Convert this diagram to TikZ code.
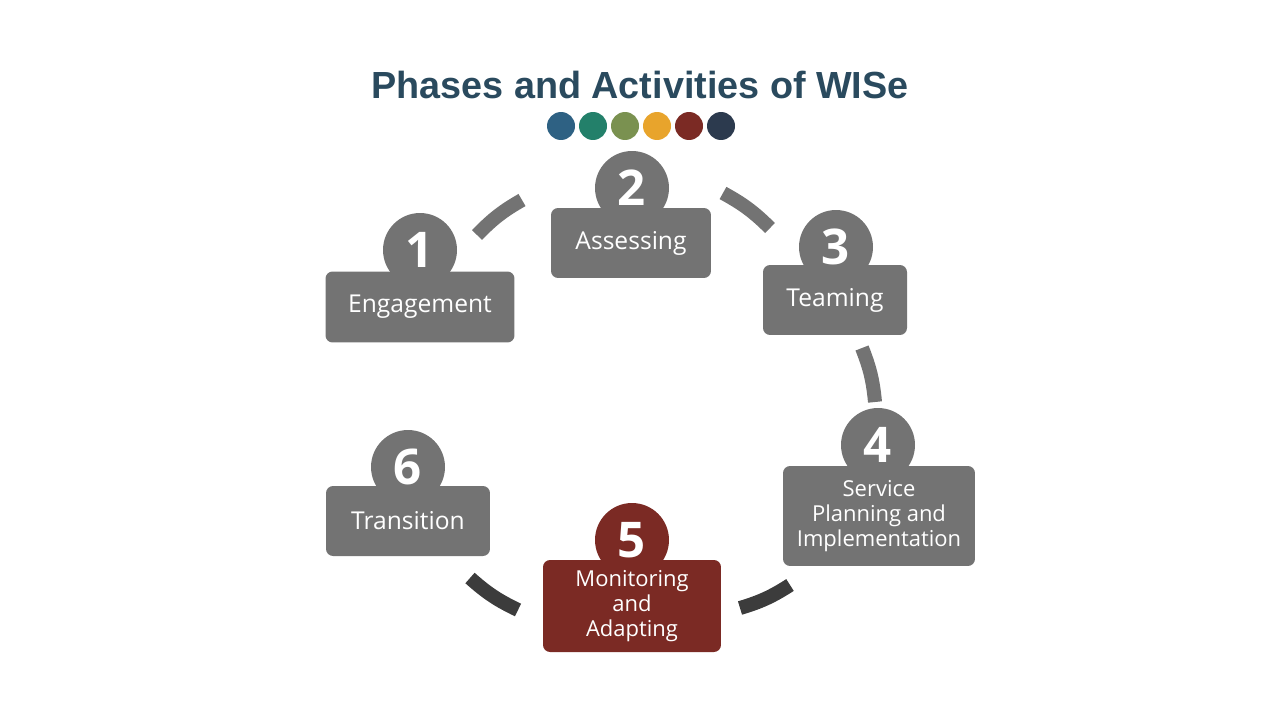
\documentclass[tikz,border=0pt]{standalone}
\usepackage{fontspec}
\setmainfont{Open Sans}
\newfontfamily\titlefont{Liberation Sans}
\definecolor{boxgray}{HTML}{737373}
\definecolor{arcdark}{HTML}{3C3C3C}
\definecolor{wisered}{HTML}{7B2A24}
\definecolor{titleblue}{HTML}{2A4A5E}
\definecolor{dotA}{HTML}{2E6183}
\definecolor{dotB}{HTML}{23806A}
\definecolor{dotC}{HTML}{7A9150}
\definecolor{dotD}{HTML}{E8A42C}
\definecolor{dotE}{HTML}{7B2A24}
\definecolor{dotF}{HTML}{2C3A4E}
\begin{document}
\begin{tikzpicture}[x=0.02cm, y=-0.02cm,
    phase/.style={rectangle, fill=boxgray, rounded corners=4pt, text=white, align=center, inner sep=0pt, font=\fontsize{14}{17}\selectfont},
    small/.style={font=\fontsize{12.5}{14.2}\selectfont},
    num/.style={circle, fill=boxgray, minimum size=1.48cm, inner sep=0pt, text=white, font=\fontsize{28}{28}\selectfont\bfseries},
    dot/.style={circle, minimum size=0.56cm, inner sep=0pt},
    arc/.style={draw=boxgray, line width=0.28cm},
    darkarc/.style={draw=arcdark, line width=0.28cm}
    ]
    \useasboundingbox (0,0) rectangle (1280,720);
    \node [font=\titlefont\fontsize{21.5}{26}\selectfont\bfseries, text=titleblue] (title) at (640,85) {Phases and Activities of WISe};

    \foreach \c [count=\i] in {dotA,dotB,dotC,dotD,dotE,dotF}
      \node [dot, fill=\c] (d\i) at (529+32*\i,126) {};

    % connecting arcs
    \coordinate (a1s) at (477,235); \coordinate (a1e) at (522,200);
    \coordinate (a2s) at (723,193); \coordinate (a2e) at (770,228);
    \coordinate (a3s) at (862,348); \coordinate (a3e) at (875,402);
    \coordinate (a4s) at (790,585); \coordinate (a4e) at (740,608);
    \coordinate (a5s) at (518,610); \coordinate (a5e) at (470,578);
    \path [arc] (a1s) to[bend left=8] (a1e);
    \path [arc] (a2s) to[bend left=8] (a2e);
    \path [arc] (a3s) to[bend left=8] (a3e);
    \path [darkarc] (a4s) to[bend left=8] (a4e);
    \path [darkarc] (a5s) to[bend left=8] (a5e);

    % phase 1
    \node [num] (n1) at (420,250) {1};
    \node [phase, minimum width=3.78cm, minimum height=1.42cm] (p1) at (420,307) {Engagement};
    \node [phase, minimum width=3.78cm, minimum height=0.5cm, fill=none] at (420,309) {};
    % phase 2
    \node [num] (n2) at (632,188) {2};
    \node [phase, minimum width=3.2cm, minimum height=1.4cm] (p2) at (631,243) {Assessing};
    % phase 3
    \node [num] (n3) at (836,247) {3};
    \node [phase, minimum width=2.88cm, minimum height=1.4cm] (p3) at (835,300) {Teaming};
    % phase 4
    \node [num] (n4) at (878,445) {4};
    \node [phase, small, minimum width=3.84cm, minimum height=2cm] (p4) at (879,516) {Service\\Planning and\\Implementation};
    % phase 5
    \node [num, fill=wisered] (n5) at (632,540) {5};
    \node [phase, small, fill=wisered, minimum width=3.56cm, minimum height=1.84cm] (p5) at (632,606) {Monitoring\\and\\Adapting};
    % phase 6
    \node [num] (n6) at (408,467) {6};
    \node [phase, minimum width=3.28cm, minimum height=1.4cm] (p6) at (408,521) {Transition};
\end{tikzpicture}
\end{document}
